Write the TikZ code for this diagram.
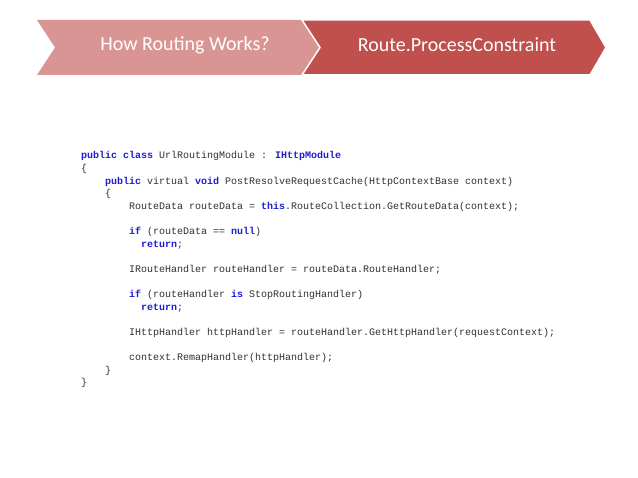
\documentclass[tikz,border=0pt]{standalone}
\usepackage{fontspec}
\setmainfont{Carlito}
\newfontfamily\codefont{Liberation Mono}
\definecolor{lightred}{HTML}{D99594}
\definecolor{darkred}{HTML}{C0504D}
\definecolor{kw}{HTML}{1F1FD0}
\definecolor{codegray}{HTML}{303030}
\begin{document}
\begin{tikzpicture}[x=1pt,y=-1pt,
  codeline/.style={anchor=base west,inner sep=0pt,font=\codefont\fontsize{10}{12}\selectfont,text=codegray},
  head/.style={text=white,font=\fontsize{20}{24}\selectfont}]
\newcommand\kw[1]{\textcolor{kw}{\textbf{#1}}}
\useasboundingbox[fill=white] (0,0) rectangle (638,478);
\fill[lightred] (37,20) -- (305,20) -- (323,47.5) -- (305,75) -- (37,75) -- (55,47.5) -- cycle;
\fill[darkred,draw=white,line width=1.5pt] (302,20) -- (590,20) -- (606,47.5) -- (590,75) -- (302,75) -- (320,47.5) -- cycle;
\node[head] (h1) at (185,45) {How Routing Works?};
\node[head] (h2) at (457,45) {Route.ProcessConstraint};
\node[codeline] (l0) at (81,159) {\kw{public} \kw{class} UrlRoutingModule : \kw{IHttpModule}};
\node[codeline] (l1) at (81,171.6) {\{};
\node[codeline] (l2) at (105,184.2) {\kw{public} virtual \kw{void} PostResolveRequestCache(HttpContextBase context)};
\node[codeline] (l3) at (105,196.8) {\{};
\node[codeline] (l4) at (129,209.4) {RouteData routeData = \kw{this}.RouteCollection.GetRouteData(context);};
\node[codeline] (l6) at (129,234.6) {\kw{if} (routeData == \kw{null})};
\node[codeline] (l7) at (141,247.2) {\kw{return};};
\node[codeline] (l9) at (129,272.4) {IRouteHandler routeHandler = routeData.RouteHandler;};
\node[codeline] (l11) at (129,297.6) {\kw{if} (routeHandler \kw{is} StopRoutingHandler)};
\node[codeline] (l12) at (141,310.2) {\kw{return};};
\node[codeline] (l14) at (129,335.4) {IHttpHandler httpHandler = routeHandler.GetHttpHandler(requestContext);};
\node[codeline] (l16) at (129,360.6) {context.RemapHandler(httpHandler);};
\node[codeline] (l17) at (105,373.2) {\}};
\node[codeline] (l18) at (81,385.8) {\}};
\end{tikzpicture}
\end{document}
